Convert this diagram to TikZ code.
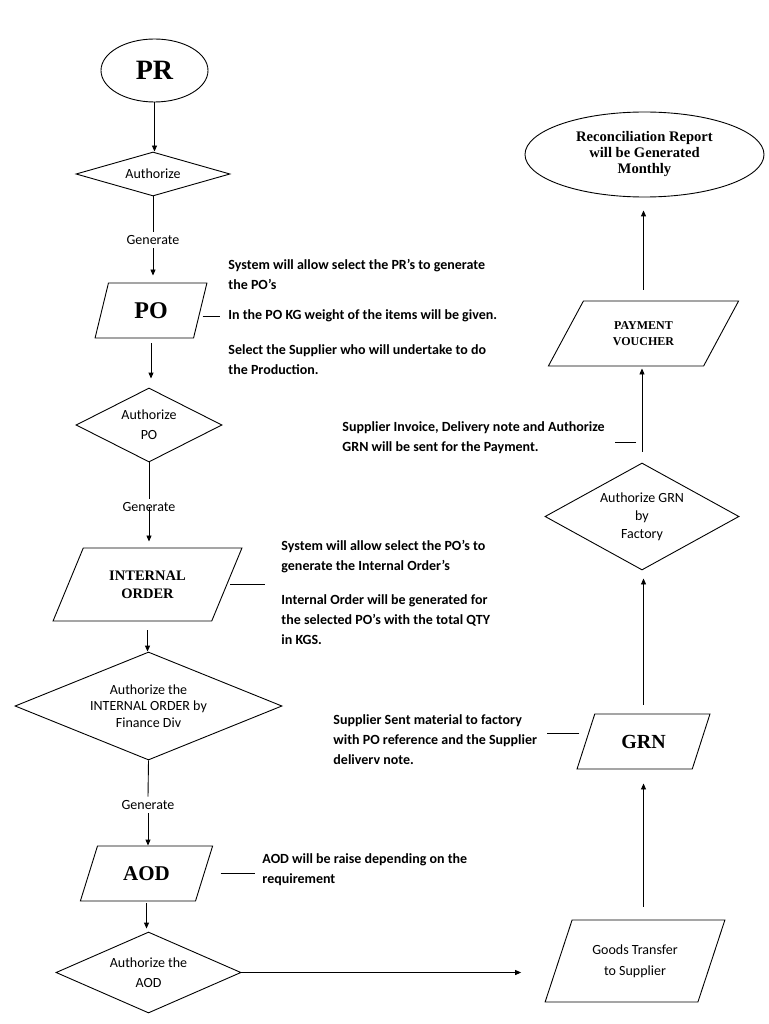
\documentclass[tikz,border=0pt]{standalone}
\usepackage{fontspec}
\setmainfont{Carlito}
\newfontfamily\headfont{Liberation Serif}
\usetikzlibrary{shapes.geometric,arrows.meta,positioning,calc}

\begin{document}
\begin{tikzpicture}[x=1pt, y=-1pt, line width=0.9pt,
    >={Triangle[length=6pt,width=5pt]},
    terminal/.style={ellipse, draw, inner sep=0pt, align=center},
    decision/.style={diamond, draw, inner sep=0pt, align=center, font=\fontsize{14pt}{20pt}\selectfont},
    io/.style={trapezium, draw, trapezium stretches=true, inner sep=0pt, align=center},
    gen/.style={font=\fontsize{14pt}{17pt}\selectfont},
    note/.style={anchor=west, align=left, inner sep=0pt, font=\bfseries\fontsize{14pt}{20pt}\selectfont}
]
    \fill[white] (0,0) rectangle (768,1024);

    % left column
    \node[terminal, minimum width=107pt, minimum height=63pt, font=\headfont\bfseries\fontsize{28pt}{30pt}\selectfont] (pr) at (154.5,70.5) {PR};
    \node[decision, aspect=3.5, minimum width=154pt, minimum height=44pt] (authpr) at (153,174) {Authorize};
    \node[gen] (gen1) at (153,240) {Generate};
    \node[io, trapezium left angle=72, trapezium right angle=108, minimum width=112pt, minimum height=55pt, font=\headfont\bfseries\fontsize{24pt}{26pt}\selectfont] (po) at (151,310.5) {PO};
    \node[decision, aspect=2, minimum width=146pt, minimum height=74pt] (authpo) at (149,425) {Authorize\\PO};
    \node[gen] (gen2) at (149,507) {Generate};
    \node[io, trapezium left angle=57, trapezium right angle=123, minimum width=189pt, minimum height=73pt, font=\headfont\bfseries\fontsize{14.5pt}{18pt}\selectfont] (io) at (147.5,584.5) {INTERNAL\\ORDER};
    \node[decision, aspect=2.47, minimum width=267pt, minimum height=108pt, font=\fontsize{14pt}{16.5pt}\selectfont] (authio) at (148.5,706) {Authorize the\\INTERNAL ORDER by\\Finance Div};
    \node[gen] (gen3) at (148,805) {Generate};
    \node[io, trapezium left angle=60, trapezium right angle=120, minimum width=133pt, minimum height=55pt, font=\headfont\bfseries\fontsize{21pt}{23pt}\selectfont] (aod) at (146.5,873.5) {AOD};
    \node[decision, aspect=2.28, minimum width=185pt, minimum height=81pt] (authaod) at (148.5,972.5) {Authorize the\\AOD};

    % right column
    \node[io, trapezium left angle=61, trapezium right angle=119, minimum width=180pt, minimum height=82pt, font=\fontsize{14pt}{21pt}\selectfont] (goods) at (635,961) {Goods Transfer\\to Supplier};
    \node[io, trapezium left angle=59, trapezium right angle=121, minimum width=133pt, minimum height=55pt, font=\headfont\bfseries\fontsize{20pt}{22pt}\selectfont] (grn) at (643.5,741.5) {GRN};
    \node[decision, aspect=1.8, minimum width=194pt, minimum height=107pt, font=\fontsize{14pt}{18pt}\selectfont] (authgrn) at (642,516.5) {Authorize GRN\\by\\Factory};
    \node[io, trapezium left angle=53, trapezium right angle=127, minimum width=191pt, minimum height=65pt, font=\headfont\bfseries\fontsize{12pt}{15.5pt}\selectfont] (pay) at (643.5,333.5) {PAYMENT\\VOUCHER};
    \node[terminal, minimum width=239pt, minimum height=85pt, font=\headfont\bfseries\fontsize{14.6pt}{16pt}\selectfont] (recon) at (644.5,154.5) {Reconciliation Report\\will be Generated\\Monthly};

    % notes
    \node[note] (prnote) at (228,274) {System will allow select the PR’s to generate\\the PO’s};
    \node[note] (kgnote) at (228,316) {In the PO KG weight of the items will be given.};
    \node[note] (supnote) at (228,360) {Select the Supplier who will undertake to do\\the Production.};
    \node[note] (ionote1) at (281,556.5) {System will allow select the PO’s to\\generate the Internal Order’s};
    \node[note] (ionote2) at (281,619.5) {Internal Order will be generated for\\the selected PO’s with the total QTY\\in KGS.};
    \node[note] (aodnote) at (262,870) {AOD will be raise depending on the\\requirement};
    \node[note] (grnnote) at (333,739.5) {Supplier Sent material to factory\\with PO reference and the Supplier\\deliverv note.};
    \node[note] (paynote) at (342,437.5) {Supplier Invoice, Delivery note and Authorize\\GRN will be sent for the Payment.};
    \coordinate (paytick) at (636,442);

    % flow
    \draw[->] (pr.south) -- (pr.south |- authpr.north);
    \draw (authpr.south) -- (gen1.north);
    \draw[->, shorten >=7pt] (gen1.south) -- (gen1.south |- po.north);
    \draw[->, shorten <=5pt, shorten >=9pt] (po.south) -- (po.south |- authpo.north);
    \draw (authpo.south) -- (gen2.north);
    \draw[->, shorten >=6pt] (gen2.center) -- (gen2.center |- io.north);
    \draw[->, shorten <=9pt] (io.south) -- (io.south |- authio.north);
    \draw (authio.south) -- (gen3.north);
    \draw[->] (gen3.south) -- (gen3.south |- aod.north);
    \draw[->, shorten <=2pt, shorten >=3pt] (aod.south) -- (aod.south |- authaod.north);
    \draw[->, shorten >=37pt] (authaod.east) -- (authaod.east -| goods.west);
    \draw[->, shorten <=13pt, shorten >=14pt] (grn.south |- goods.north) -- (grn.south);
    \draw[->, shorten <=9pt, shorten >=8pt] (grn.north) -- (grn.north |- authgrn.south);
    \draw[->, shorten <=11pt, shorten >=2pt] (authgrn.north) -- (authgrn.north |- pay.south);
    \draw[->, shorten <=11pt, shorten >=13pt] (pay.north) -- (pay.north |- recon.south);

    % note ticks
    \draw[shorten <=2pt, shorten >=8pt] (po.east |- kgnote.west) -- (kgnote.west);
    \draw[shorten <=3pt, shorten >=16pt] (io.east) -- (io.east -| ionote2.west);
    \draw[shorten <=16pt, shorten >=7pt] (aod.east) -- (aod.east -| aodnote.west);
    \draw[shorten <=6pt, shorten >=9pt] ([yshift=8pt]grn.west) -- ([yshift=8pt]grn.west -| grnnote.east);
    \draw[shorten >=10pt] (paytick) -- (paytick -| paynote.east);
\end{tikzpicture}
\end{document}
